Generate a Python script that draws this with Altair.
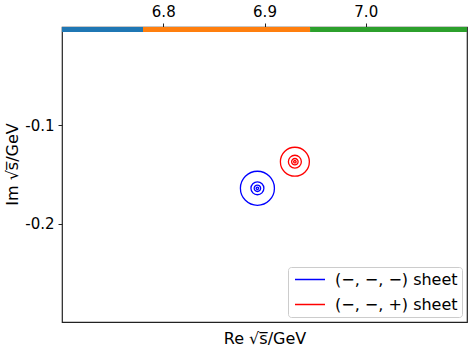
import altair as alt
import pandas as pd

# Coloured band along the top edge (ranges in Re sqrt(s) / GeV)
seg_start = [6.70, 6.78, 6.945]
seg_end = [6.78, 6.945, 7.10]
seg_color = ["#1f77b4", "#ff7f0e", "#2ca02c"]
band_top = 0.0
band_bottom = -0.005

# Pole contours for the two Riemann sheets
sheets = ["(−, −, −) sheet", "(−, −, +) sheet"]
sheet_color = ["#0000ff", "#ff0000"]
pole_re = [6.893, 6.930]
pole_im = [-0.164, -0.137]
ring_radius = [
    [0.0168, 0.0064, 0.0032, 0.0012],
    [0.0143, 0.0064, 0.0032, 0.0012],
]

x_domain = [6.7, 7.1]
y_domain = [-0.3, 0.0]
W, H = 405, 295
px_per_unit = W / (x_domain[1] - x_domain[0])

band = pd.DataFrame({"x0": seg_start, "x1": seg_end, "c": seg_color,
                     "y0": [band_top] * 3, "y1": [band_bottom] * 3})

rows = []
for s, re_, im_, radii in zip(sheets, pole_re, pole_im, ring_radius):
    for r in radii:
        rows.append({"sheet": s, "re": re_, "im": im_,
                     "size": (2 * r * px_per_unit) ** 2})
rings = pd.DataFrame(rows)

xs = alt.Scale(domain=x_domain, nice=False, zero=False)
ys = alt.Scale(domain=y_domain, nice=False, zero=False)

band_layer = alt.Chart(band).mark_rect().encode(
    x=alt.X("x0:Q", scale=xs, axis=alt.Axis(
        orient="top", values=[6.8, 6.9, 7.0], format=".1f", title=None,
        grid=False, domain=False, tickSize=4, labelPadding=4,
        labelFontSize=15, tickColor="#222", labelColor="#000")),
    x2="x1:Q",
    y=alt.Y("y0:Q", scale=ys, axis=alt.Axis(
        values=[-0.1, -0.2], labelExpr="'-' + format(abs(datum.value), '.1f')",
        title="Im √s̅/GeV", titleFontSize=16, titleFontWeight="normal",
        titlePadding=4, titleY=137, grid=False, domain=False, tickSize=4,
        labelPadding=4, labelFontSize=15, tickColor="#222",
        labelColor="#000", titleColor="#000")),
    y2="y1:Q",
    fill=alt.Fill("c:N", scale=None, legend=None),
)

ring_layer = alt.Chart(rings).mark_point(
    shape="circle", filled=False, strokeWidth=1.3, opacity=1
).encode(
    x=alt.X("re:Q", scale=xs, axis=alt.Axis(
        orient="bottom", labels=False, ticks=False, domain=False, grid=False,
        title="Re √s̅/GeV", titleFontSize=16, titleFontWeight="normal",
        titlePadding=8, titleColor="#000")),
    y=alt.Y("im:Q", scale=ys),
    size=alt.Size("size:Q", scale=None, legend=None),
    color=alt.Color("sheet:N", sort=sheets,
                    scale=alt.Scale(domain=sheets, range=sheet_color),
                    legend=alt.Legend(
                        title=None, orient="none", legendX=226, legendY=240,
                        symbolType="M-2,0H2", symbolSize=225,
                        symbolOffset=9.5,
                        symbolStrokeWidth=1.5, rowPadding=8,
                        labelFontSize=16, labelOffset=16.5, padding=4,
                        strokeColor="#cccccc", fillColor="#ffffff",
                        cornerRadius=3, labelColor="#000")),
)

chart = alt.layer(band_layer, ring_layer).resolve_axis(
    x="independent"
).resolve_scale(
    color="independent", fill="independent"
).properties(
    width=W, height=H,
    autosize=alt.AutoSizeParams(type="none"),
    padding={"left": 62, "top": 27, "right": 7, "bottom": 31},
).configure(
    font="DejaVu Sans",
).configure_view(
    stroke="#222", strokeWidth=1.2
)

chart.save("out.html", embed_options={"renderer": "svg", "actions": False})
